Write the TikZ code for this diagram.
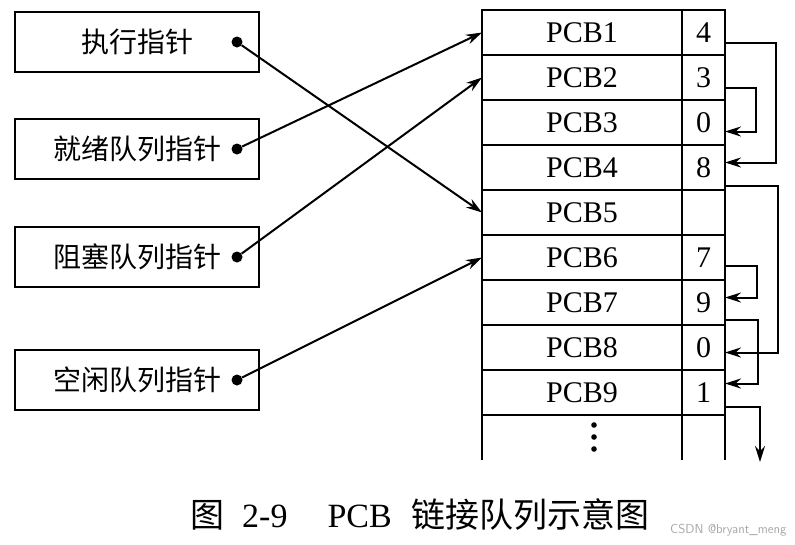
\documentclass[tikz,border=0pt]{standalone}
\usepackage{fontspec}
\setmainfont{Liberation Serif}
\newfontfamily\cjk{Noto Sans CJK SC}
\usetikzlibrary{arrows.meta,positioning,calc}

\begin{document}
\begin{tikzpicture}[x=1pt, y=-1pt,
    ptrbox/.style={draw, line width=2.6pt, minimum width=244pt, minimum height=60pt,
      inner sep=0pt, font=\cjk\fontsize{28}{30}\selectfont},
    ptrdot/.style={circle, fill, inner sep=0pt, minimum size=11pt},
    namecell/.style={draw, line width=2.8pt, minimum width=200pt, minimum height=45pt,
      inner sep=0pt, outer sep=0pt, font=\fontsize{30}{32}\selectfont},
    valcell/.style={namecell, minimum width=43pt},
    link/.style={-{Stealth[length=16pt, width=10pt]}, line width=2pt}]
    \useasboundingbox (0,0) rectangle (795,544);

    % Pointer boxes on the left
    \foreach \name/\txt/\y in {exec/执行指针/42, ready/就绪队列指针/149,
        block/阻塞队列指针/257, free/空闲队列指针/380} {
      \node[ptrbox] (\name) at (137,\y) {\txt};
      \node[ptrdot] (d\name) at (237,\y) {};
    }

    % PCB table: name column and link column
    \foreach \i/\v in {1/4, 2/3, 3/0, 4/8, 5/{}, 6/7, 7/9, 8/0, 9/1} {
      \node[namecell] (n\i) at (582,{32.5+45*(\i-1)}) {PCB\i};
      \node[valcell, right=0pt of n\i] (v\i) {\v};
    }
    \foreach \c in {n9.south west, n9.south east, v9.south east}
      \draw[line width=2.8pt] (\c) -- ++(0,45);
    \foreach \k in {0,1,2}
      \fill (594,{425+12*\k}) circle (2.8);

    % Queue heads point into the table
    \draw[link] (dexec) -- (n5.west);
    \draw[link] (dready) -- (n1.west);
    \draw[link] (dblock) -- (n2.west);
    \draw[link] (dfree) -- (n6.west);

    % Links between PCBs
    \draw[link] ([yshift=-10pt]v1.east) -- ++(51,0) |- ([yshift=5pt]v4.east);
    \draw[link] ([yshift=-10pt]v2.east) -- ++(31,0) |- ([yshift=-9pt]v3.east);
    \draw[link] ([yshift=-18pt]v4.east) -- ++(53,0) |- ([yshift=-5pt]v8.east);
    \draw[link] ([yshift=-8pt]v6.east) -- ++(32,0) |- ([yshift=5pt]v7.east);
    \draw[link] ([yshift=-17pt]v7.east) -- ++(33,0) |- ([yshift=9pt]v9.east);
    \coordinate (tail) at (760,462);
    \draw[link] ([yshift=-14pt]v9.east) -| (tail);

    % Caption
    \node[font=\fontsize{34}{36}\selectfont] (caption) at (420,515)
      {{\cjk 图}\hspace{18pt}2-9\hspace{40pt}PCB\hspace{20pt}{\cjk 链接队列示意图}};
    \node[font=\sffamily\fontsize{13}{14}\selectfont, gray!70, anchor=east] (mark)
      at (790,530) {CSDN @bryant\_meng};
\end{tikzpicture}
\end{document}
